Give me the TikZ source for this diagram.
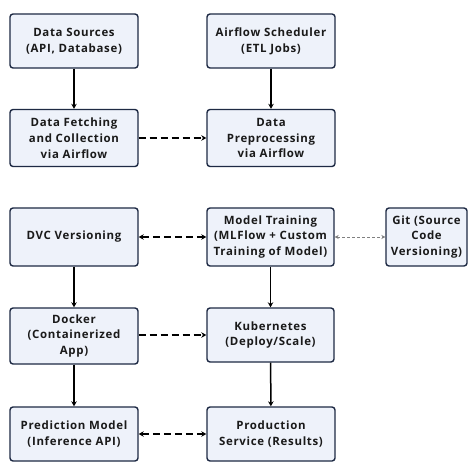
\documentclass[tikz,border=0pt]{standalone}
\usepackage{fontspec}
\setmainfont{Open Sans}[LetterSpace=6]
\usetikzlibrary{arrows.meta}
\definecolor{boxfill}{HTML}{EEF2FA}
\definecolor{boxdraw}{HTML}{1E2A44}
\definecolor{txt}{HTML}{1A1A1A}
\begin{document}
\begin{tikzpicture}[x=1bp,y=-1bp,
  box/.style={draw=boxdraw,fill=boxfill,line width=1.4bp,rounded corners=3bp,
    align=center,font=\fontsize{11.5}{16}\selectfont\bfseries,text=txt,
    inner sep=0pt},
  solidarr/.style={line width=1.5bp,-{Stealth[length=5bp,width=5.5bp]}},
  dasharr/.style={line width=1.5bp,dash pattern=on 7bp off 4bp,-{Stealth[length=5bp,width=5.5bp]}},
  dashboth/.style={line width=1.5bp,dash pattern=on 7bp off 4bp,{Stealth[length=5bp,width=5.5bp]}-{Stealth[length=5bp,width=5.5bp]}},
  gitarr/.style={line width=0.8bp,draw=gray,dash pattern=on 3bp off 2bp,{Stealth[length=4bp,width=4bp]}-{Stealth[length=4bp,width=4bp]}}]
\fill[white] (0,0) rectangle (474,474);
\useasboundingbox (0,0) rectangle (474,474);
\node[box,minimum width=128bp,minimum height=54bp] (ds) at (74,41) {Data Sources\\(API, Database)};
\node[box,minimum width=128bp,minimum height=54bp] (af) at (271,41) {Airflow Scheduler\\(ETL Jobs)};
\node[box,minimum width=128bp,minimum height=57bp] (df) at (74,138) {Data Fetching\\and Collection\\via Airflow};
\node[box,minimum width=128bp,minimum height=57bp] (dp) at (271,138) {Data\\Preprocessing\\via Airflow};
\node[box,minimum width=128bp,minimum height=58bp] (dvc) at (74,237) {DVC Versioning};
\node[box,minimum width=127bp,minimum height=58bp] (mt) at (270.5,237) {Model Training\\(MLFlow + Custom\\Training of Model)};
\node[box,minimum width=81bp,minimum height=58bp] (git) at (426.5,237) {Git (Source\\Code\\Versioning)};
\node[box,minimum width=128bp,minimum height=56bp] (dk) at (74,336) {Docker\\(Containerized\\App)};
\node[box,minimum width=127bp,minimum height=54bp] (k8) at (270.5,335) {Kubernetes\\(Deploy/Scale)};
\node[box,minimum width=128bp,minimum height=54bp] (pm) at (74,434) {Prediction Model\\(Inference API)};
\node[box,minimum width=128bp,minimum height=54bp] (ps) at (271,434) {Production\\Service (Results)};
\draw[solidarr] (ds) -- (df);
\draw[solidarr] (af) -- (dp);
\draw[dasharr] (df) -- (dp);
\draw[dashboth] (dvc) -- (mt);
\draw[gitarr] (mt) -- (git);
\draw[solidarr] (mt) -- (k8);
\draw[solidarr] (dvc) -- (dk);
\draw[dasharr] (dk.east |- k8) -- (k8.west);
\draw[solidarr] (dk) -- (pm);
\draw[solidarr] (k8) -- (ps);
\draw[dashboth] (pm) -- (ps);
\end{tikzpicture}
\end{document}
